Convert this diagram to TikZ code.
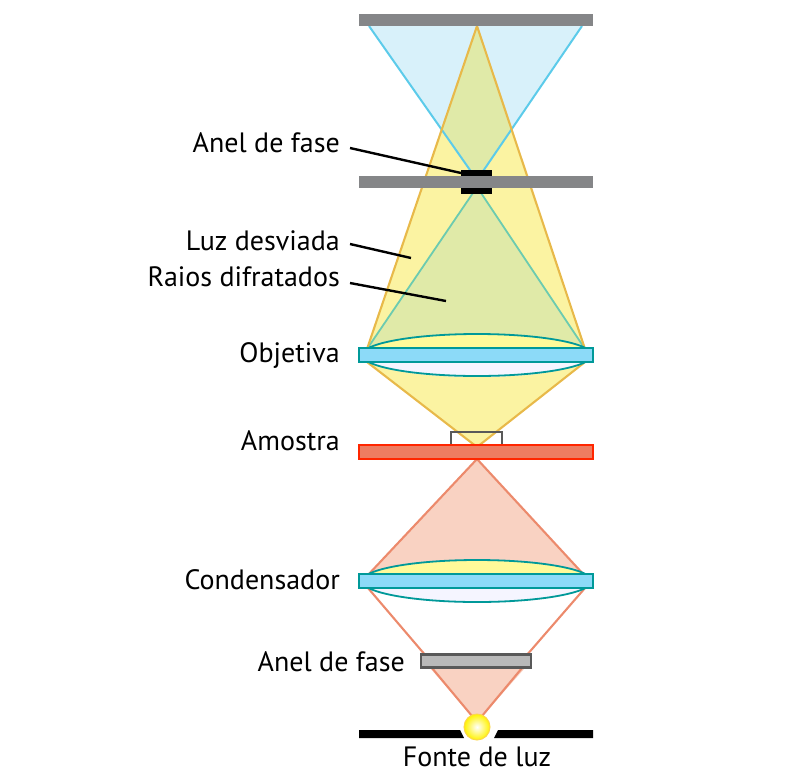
\documentclass[tikz,border=0pt]{standalone}
\usepackage{fontspec}
\setmainfont{PT Sans}
\begin{document}
\begin{tikzpicture}[x=1pt,y=-1pt,
 lbl/.style={font=\fontsize{28}{30}\selectfont,inner sep=0pt},
 lead/.style={black,line width=2.4pt},
 gbar/.style={fill=gray!90!black!60,draw=none},
 lensbar/.style={fill=cyan!45!white,draw=teal!80!cyan,line width=2.2pt},
 lensel/.style={draw=teal!80!cyan,line width=1.8pt}]
\useasboundingbox (0,0) rectangle (800,774);
\definecolor{cblue}{HTML}{D8F1FA}\definecolor{lblue}{HTML}{5CCBEA}
\definecolor{cyel}{HTML}{FBF3A2}\definecolor{lyel}{HTML}{E8B94A}
\definecolor{cgrn}{HTML}{E0EAA8}\definecolor{lgrn}{HTML}{6CCBB0}
\definecolor{cpink}{HTML}{F9D2C2}\definecolor{lpink}{HTML}{EC8A6C}
\definecolor{bargray}{HTML}{858688}
% blue cone
\fill[cblue] (369,26) -- (582,26) -- (477,180) -- cycle;
% yellow cone
\fill[cyel] (477,26) -- (367,349) -- (585,349) -- cycle;
% overlap
\begin{scope}
\clip (369,26) -- (582,26) -- (477,180) -- cycle;
\fill[cgrn] (477,26) -- (367,349) -- (585,349) -- cycle;
\end{scope}
\fill[cgrn] (477,187) -- (367,349) -- (585,349) -- cycle;
\draw[lblue,line width=2pt] (369,26) -- (477,180) -- (582,26);
\draw[lgrn,line width=1.8pt] (367,349) -- (477,187) -- (585,349);
\draw[lyel,line width=2.1pt] (367,349) -- (477,26) -- (585,349);
% bars
\node[gbar,fill=bargray,minimum width=234pt,minimum height=12pt,inner sep=0pt] (top) at (476,20) {};
\node[fill=black,minimum width=31pt,minimum height=24pt,inner sep=0pt] (ring) at (476,182) {};
\node[gbar,fill=bargray,minimum width=234pt,minimum height=12pt,inner sep=0pt] (mid) at (476,182) {};
% cone below objective
\fill[cyel] (367,362) -- (585,362) -- (477,447) -- cycle;
\draw[lyel,line width=2.1pt] (367,362) -- (477,447) -- (585,362);
% objective lens
\fill[yellow!40!white] (362,355) arc[start angle=180,end angle=360,x radius=115,y radius=21];
\fill[blue!4] (362,355) arc[start angle=180,end angle=0,x radius=115,y radius=22];
\draw[lensel] (477,355) ellipse[x radius=115,y radius=21];
\node[lensbar,minimum width=234pt,minimum height=14pt,inner sep=0pt] (obj) at (476,355) {};
% coverslip
\draw[gray!70!black,line width=2pt] (451,445) -- (451,432) -- (502,432) -- (502,445);
% pink cone
\fill[cpink] (477,459) -- (367,576) -- (585,576) -- cycle;
\draw[lpink,line width=2.1pt] (367,576) -- (477,459) -- (585,576);
% sample
\node[fill=lpink!90!red,draw=red!70!orange,line width=2.2pt,minimum width=234pt,minimum height=14pt,inner sep=0pt] (sample) at (476,452) {};
% below condenser
\fill[cpink] (430,668) -- (525,668) -- (477,722) -- cycle;
\draw[lpink,line width=2.1pt] (368,588) -- (426,656) (585,588) -- (526,656);
\draw[lpink,line width=2.1pt] (432,668) -- (477,722) -- (522,668);
% condenser lens
\fill[yellow!40!white] (362,581) arc[start angle=180,end angle=360,x radius=115,y radius=21];
\fill[blue!4] (362,581) arc[start angle=180,end angle=0,x radius=115,y radius=22];
\draw[lensel] (477,581) ellipse[x radius=115,y radius=21];
\node[lensbar,minimum width=234pt,minimum height=14pt,inner sep=0pt] (cond) at (476,581) {};
% lower phase ring
\node[fill=gray!55,draw=gray!70!black,line width=2.2pt,minimum width=110pt,minimum height=13pt,inner sep=0pt] (ring2) at (476,661) {};
% light source bar
\fill[black] (359,730) -- (460,730) -- (464,738) -- (359,738) -- cycle;
\fill[black] (593,730) -- (498,730) -- (494,738) -- (593,738) -- cycle;
\shade[inner color=white,outer color=yellow!90!orange] (477,727) circle (13);
\node[circle,inner sep=0pt,minimum size=26pt,draw=yellow!60!orange!70,line width=1pt] (src) at (477,727) {};
% labels
\node[lbl,anchor=east] (l1) at (340,143) {Anel de fase};
\node[lbl,anchor=east] (l2) at (340,241) {Luz desviada};
\node[lbl,anchor=east] (l3) at (340,277) {Raios difratados};
\node[lbl,anchor=east] (l4) at (340,355) {Objetiva};
\node[lbl,anchor=east] (l5) at (340,441) {Amostra};
\node[lbl,anchor=east] (l6) at (340,580) {Condensador};
\node[lbl,anchor=east] (l7) at (405,662) {Anel de fase};
\node[lbl] (l8) at (477,757) {Fonte de luz};
\coordinate (p1) at (461,173);
\coordinate (p2) at (411,258);
\coordinate (p3) at (446,301);
\draw[lead] (350,148) -- (p1);
\draw[lead] (350,244) -- (p2);
\draw[lead] (350,283) -- (p3);
\end{tikzpicture}
\end{document}
